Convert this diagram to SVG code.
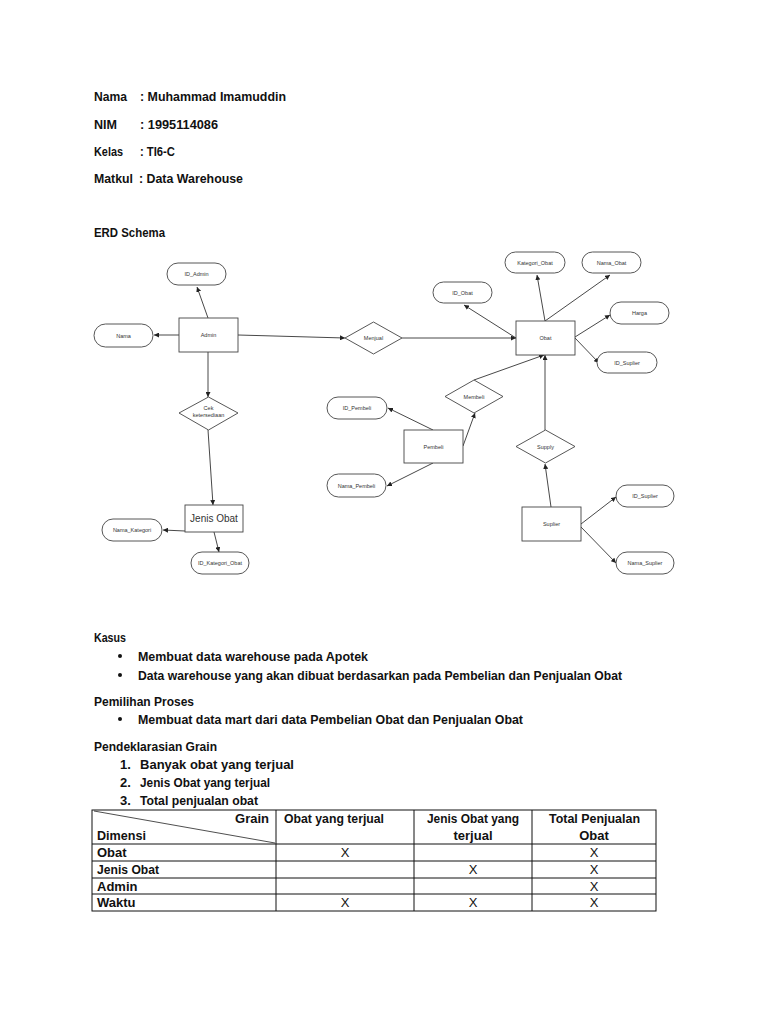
<svg xmlns="http://www.w3.org/2000/svg" width="768" height="1024" viewBox="0 0 768 1024">
<style>
.t{font-family:"Liberation Sans",Arial,sans-serif;font-size:13px;font-weight:bold;fill:#111}
.s{font-family:"Liberation Sans",Arial,sans-serif;font-size:5.5px;fill:#333;text-anchor:middle}
.sh{fill:#fff;stroke:#444;stroke-width:0.9}
.c{stroke:#333;stroke-width:0.9;fill:none;marker-end:url(#ah)}
.tl{stroke:#111;stroke-width:1;fill:none}
</style>
<defs>
<marker id="ah" viewBox="0 0 10 10" refX="10" refY="5" markerWidth="5" markerHeight="5" markerUnits="userSpaceOnUse" orient="auto">
<path d="M0,0 L10,5 L0,10 z" fill="#222"/>
</marker>
</defs>
<rect width="768" height="1024" fill="#fff"/>

<g id="header">
<text class="t" x="94" y="101" textLength="33" lengthAdjust="spacingAndGlyphs">Nama</text>
<text class="t" x="140" y="101" textLength="146" lengthAdjust="spacingAndGlyphs">: Muhammad Imamuddin</text>
<text class="t" x="94" y="129" textLength="23" lengthAdjust="spacingAndGlyphs">NIM</text>
<text class="t" x="140" y="129" textLength="78" lengthAdjust="spacingAndGlyphs">: 1995114086</text>
<text class="t" x="94" y="156" textLength="29" lengthAdjust="spacingAndGlyphs">Kelas</text>
<text class="t" x="140" y="156" textLength="35" lengthAdjust="spacingAndGlyphs">: TI6-C</text>
<text class="t" x="94" y="183" textLength="39" lengthAdjust="spacingAndGlyphs">Matkul</text>
<text class="t" x="139" y="183" textLength="104" lengthAdjust="spacingAndGlyphs">: Data Warehouse</text>
<text class="t" x="94" y="237" textLength="71" lengthAdjust="spacingAndGlyphs">ERD Schema</text>
</g>

<g id="connectors">
<line class="c" x1="208" y1="318" x2="197" y2="287"/>
<line class="c" x1="179" y1="335" x2="154" y2="335"/>
<line class="c" x1="238" y1="335" x2="345" y2="338"/>
<line class="c" x1="208" y1="352" x2="208" y2="397"/>
<line class="c" x1="208" y1="430" x2="213" y2="505"/>
<line class="c" x1="185" y1="531" x2="163" y2="530"/>
<line class="c" x1="214" y1="532" x2="219" y2="552"/>
<line class="c" x1="402" y1="338" x2="516" y2="338"/>
<line class="c" x1="545" y1="321" x2="537" y2="275"/>
<line class="c" x1="545" y1="321" x2="610" y2="275"/>
<line class="c" x1="516" y1="338" x2="464" y2="305"/>
<line class="c" x1="575" y1="337" x2="610" y2="315"/>
<line class="c" x1="575" y1="338" x2="599" y2="363"/>
<line class="c" x1="474" y1="380" x2="544" y2="355"/>
<line class="c" x1="545" y1="430" x2="545" y2="355"/>
<line class="c" x1="463" y1="446" x2="475" y2="413"/>
<line class="c" x1="433" y1="430" x2="388" y2="408"/>
<line class="c" x1="433" y1="463" x2="387" y2="486"/>
<line class="c" x1="551" y1="507" x2="545" y2="464"/>
<line class="c" x1="581" y1="524" x2="616" y2="497"/>
<line class="c" x1="581" y1="527" x2="616" y2="563"/>
</g>

<g id="admin"><rect class="sh" x="179" y="318" width="59" height="34"/><text class="s" x="208.5" y="337">Admin</text></g>
<g id="id_admin"><rect class="sh" x="167" y="263" width="59" height="22" rx="11"/><text class="s" x="196.5" y="276">ID_Admin</text></g>
<g id="nama"><rect class="sh" x="94" y="324" width="59" height="23" rx="11.5"/><text class="s" x="123.5" y="337.5">Nama</text></g>
<g id="menjual"><polygon class="sh" points="345,338 373.5,322 402,338 373.5,354"/><text class="s" x="373.5" y="340">Menjual</text></g>
<g id="cek"><polygon class="sh" points="179,413 208.5,397 238,413 208.5,430"/><text class="s" x="208.5" y="410">Cek</text><text class="s" x="208.5" y="417">ketersediaan</text></g>
<g id="jenis_obat"><rect class="sh" x="185" y="505" width="58" height="27"/><text x="214" y="522" text-anchor="middle" font-family="Liberation Sans, Arial, sans-serif" font-size="10" fill="#333">Jenis Obat</text></g>
<g id="nama_kategori"><rect class="sh" x="102" y="519" width="60" height="22" rx="11"/><text class="s" x="132" y="532">Nama_Kategori</text></g>
<g id="id_kategori_obat"><rect class="sh" x="191" y="552" width="58" height="22" rx="11"/><text class="s" x="220" y="565">ID_Kategori_Obat</text></g>

<g id="obat"><rect class="sh" x="516" y="321" width="59" height="34"/><text class="s" x="545.5" y="340">Obat</text></g>
<g id="kategori_obat"><rect class="sh" x="505" y="252" width="60" height="21" rx="10.5"/><text class="s" x="535" y="264.5">Kategori_Obat</text></g>
<g id="nama_obat"><rect class="sh" x="582" y="252" width="59" height="21" rx="10.5"/><text class="s" x="611.5" y="264.5">Nama_Obat</text></g>
<g id="id_obat"><rect class="sh" x="433" y="282" width="59" height="21" rx="10.5"/><text class="s" x="462.5" y="294.5">ID_Obat</text></g>
<g id="harga"><rect class="sh" x="610" y="302" width="59" height="22" rx="11"/><text class="s" x="639.5" y="315">Harga</text></g>
<g id="id_suplier_obat"><rect class="sh" x="597" y="352" width="60" height="21" rx="10.5"/><text class="s" x="627" y="364.5">ID_Suplier</text></g>

<g id="membeli"><polygon class="sh" points="445,396.5 474,380 503,396.5 474,413"/><text class="s" x="474" y="398.5">Membeli</text></g>
<g id="pembeli"><rect class="sh" x="404" y="430" width="59" height="33"/><text class="s" x="433.5" y="448.5">Pembeli</text></g>
<g id="id_pembeli"><rect class="sh" x="327" y="397" width="60" height="22" rx="11"/><text class="s" x="357" y="410">ID_Pembeli</text></g>
<g id="nama_pembeli"><rect class="sh" x="327" y="474" width="59" height="23" rx="11.5"/><text class="s" x="356.5" y="487.5">Nama_Pembeli</text></g>

<g id="supply"><polygon class="sh" points="516,446.5 545.5,430 575,446.5 545.5,463"/><text class="s" x="545.5" y="448.5">Supply</text></g>
<g id="suplier"><rect class="sh" x="522" y="507" width="59" height="34"/><text class="s" x="551.5" y="526">Suplier</text></g>
<g id="id_suplier"><rect class="sh" x="616" y="485" width="58" height="22" rx="11"/><text class="s" x="645" y="498">ID_Suplier</text></g>
<g id="nama_suplier"><rect class="sh" x="616" y="552" width="58" height="22" rx="11"/><text class="s" x="645" y="565">Nama_Suplier</text></g>

<g id="kasus">
<text class="t" x="94" y="642" textLength="32" lengthAdjust="spacingAndGlyphs">Kasus</text>
<circle cx="120" cy="656" r="2" fill="#111"/>
<text class="t" x="138" y="661" textLength="230" lengthAdjust="spacingAndGlyphs">Membuat data warehouse pada Apotek</text>
<circle cx="120" cy="675" r="2" fill="#111"/>
<text class="t" x="138" y="680" textLength="484" lengthAdjust="spacingAndGlyphs">Data warehouse yang akan dibuat berdasarkan pada Pembelian dan Penjualan Obat</text>
<text class="t" x="94" y="706" textLength="100" lengthAdjust="spacingAndGlyphs">Pemilihan Proses</text>
<circle cx="120" cy="719" r="2" fill="#111"/>
<text class="t" x="138" y="724" textLength="385" lengthAdjust="spacingAndGlyphs">Membuat data mart dari data Pembelian Obat dan Penjualan Obat</text>
<text class="t" x="94" y="751" textLength="123" lengthAdjust="spacingAndGlyphs">Pendeklarasian Grain</text>
<text class="t" x="120" y="769">1.</text>
<text class="t" x="140" y="769" textLength="154" lengthAdjust="spacingAndGlyphs">Banyak obat yang terjual</text>
<text class="t" x="120" y="787">2.</text>
<text class="t" x="140" y="787" textLength="130" lengthAdjust="spacingAndGlyphs">Jenis Obat yang terjual</text>
<text class="t" x="120" y="805">3.</text>
<text class="t" x="140" y="805" textLength="118" lengthAdjust="spacingAndGlyphs">Total penjualan obat</text>
</g>

<g id="table">
<rect class="tl" x="92" y="810" width="564" height="101"/>
<line class="tl" x1="276" y1="810" x2="276" y2="911"/>
<line class="tl" x1="414" y1="810" x2="414" y2="911"/>
<line class="tl" x1="532" y1="810" x2="532" y2="911"/>
<line class="tl" x1="92" y1="844" x2="656" y2="844"/>
<line class="tl" x1="92" y1="861" x2="656" y2="861"/>
<line class="tl" x1="92" y1="878" x2="656" y2="878"/>
<line class="tl" x1="92" y1="894" x2="656" y2="894"/>
<line x1="94" y1="811" x2="275" y2="843" stroke="#222" stroke-width="0.8"/>
<text class="t" x="269" y="823" text-anchor="end">Grain</text>
<text class="t" x="97" y="840" textLength="49" lengthAdjust="spacingAndGlyphs">Dimensi</text>
<text class="t" x="284" y="823" textLength="100" lengthAdjust="spacingAndGlyphs">Obat yang terjual</text>
<text class="t" x="427" y="823" textLength="92" lengthAdjust="spacingAndGlyphs">Jenis Obat yang</text>
<text class="t" x="473" y="840" text-anchor="middle">terjual</text>
<text class="t" x="549" y="823" textLength="91" lengthAdjust="spacingAndGlyphs">Total Penjualan</text>
<text class="t" x="594" y="840" text-anchor="middle">Obat</text>
<text class="t" x="97" y="857">Obat</text>
<text class="t" x="97" y="874" textLength="62" lengthAdjust="spacingAndGlyphs">Jenis Obat</text>
<text class="t" x="97" y="891">Admin</text>
<text class="t" x="97" y="907">Waktu</text>
<g font-family="Liberation Sans, Arial, sans-serif" font-size="13" fill="#111" text-anchor="middle">
<text x="345" y="857">X</text><text x="594" y="857">X</text>
<text x="473" y="874">X</text><text x="594" y="874">X</text>
<text x="594" y="891">X</text>
<text x="345" y="907">X</text><text x="473" y="907">X</text><text x="594" y="907">X</text>
</g>
</g>
</svg>
